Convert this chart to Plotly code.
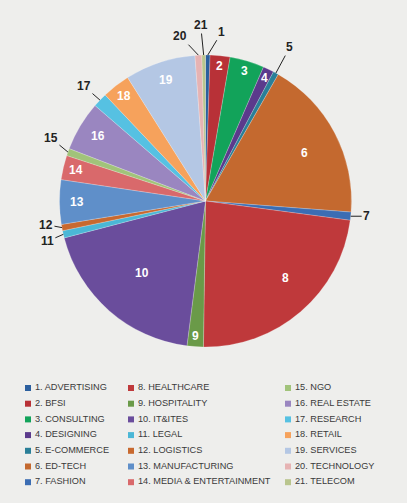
import math
import plotly.graph_objects as go

# slice shares (% of respondents), clockwise from 12 o'clock
categories = ["ADVERTISING", "BFSI", "CONSULTING", "DESIGNING", "E-COMMERCE", "ED-TECH",
              "FASHION", "HEALTHCARE", "HOSPITALITY", "IT&ITES", "LEGAL", "LOGISTICS",
              "MANUFACTURING", "MEDIA & ENTERTAINMENT", "NGO", "REAL ESTATE", "RESEARCH",
              "RETAIL", "SERVICES", "TECHNOLOGY", "TELECOM"]
shares = [0.5, 2.2, 3.8, 1.2, 0.6, 17.9, 0.9, 23.1, 1.8, 18.9, 0.8, 0.7,
          4.9, 2.7, 0.8, 5.5, 1.6, 3.1, 7.8, 0.75, 0.4]
colors = ["#2b5f9e", "#b83137", "#12a35a", "#5b3a8c", "#2a7f98", "#c4692f",
          "#3b6db3", "#bf393b", "#6a9a48", "#6a4d9c", "#4bb7d6", "#c8692f",
          "#5f8fc9", "#d9696b", "#a1c37a", "#9a86c0", "#56c1e2", "#f6a25c",
          "#b4c7e4", "#e6b3b3", "#b9c58d"]
numbers = [str(i + 1) for i in range(len(categories))]

W, H = 407, 503
CX, CY, R = 205.5, 201, 146
BG = "#eeeeec"

# inside labels: (fraction of radius, angle nudge in degrees)
inside_pos = {"2": (0.93, 0), "3": (0.93, 0), "4": (0.935, 0), "6": (0.75, 2),
              "8": (0.76, -5), "9": (0.93, 0), "10": (0.66, 0), "13": (0.88, 0),
              "14": (0.91, 0), "16": (0.86, 0), "18": (0.91, 0), "19": (0.87, 0)}
# outside labels: offset (px) from slice edge to the label
label_offsets = {"1": (14, -23), "21": (-3, -30), "20": (-18, -19), "5": (14, -26),
                 "7": (16, 0), "11": (-16, 7), "12": (-16, -3), "15": (-17, -14),
                 "17": (-16, -14)}

fig = go.Figure()

fig.add_trace(go.Pie(
    labels=categories,
    values=shares,
    textinfo="none",
    marker=dict(colors=colors, line=dict(color="rgba(255,255,255,0.35)", width=0.6)),
    sort=False,
    direction="clockwise",
    rotation=0,
    showlegend=False,
    hoverinfo="label+percent",
    domain=dict(x=[(CX - R) / W, (CX + R) / W], y=[1 - (CY + R) / H, 1 - (CY - R) / H]),
))

# slice numbers, placed from each slice's mid angle
total = sum(shares)
cum = 0
for n, v in zip(numbers, shares):
    mid = (cum + v / 2) / total * 360
    cum += v
    if n in inside_pos:
        frac, nudge = inside_pos[n]
        a = math.radians(mid + nudge)
        fig.add_annotation(x=CX + frac * R * math.sin(a), y=CY - frac * R * math.cos(a),
                           xref="x", yref="y", text="<b>" + n + "</b>", showarrow=False,
                           font=dict(family="Liberation Sans", size=12, color="white"))
    else:
        a = math.radians(mid)
        ax, ay = label_offsets[n]
        fig.add_annotation(x=CX + R * math.sin(a), y=CY - R * math.cos(a),
                           xref="x", yref="y", text="<b>" + n + "</b>",
                           showarrow=True, arrowhead=0, arrowwidth=1, arrowcolor="#222",
                           ax=ax, ay=ay, standoff=0,
                           font=dict(family="Liberation Sans", size=12, color="#222"))

# legend, three columns of seven
col_x = [28, 131, 288]
row0, row_step = 388, 15.7
lx = [col_x[i // 7] for i in range(len(categories))]
ly = [row0 + (i % 7) * row_step for i in range(len(categories))]
fig.add_trace(go.Scatter(
    x=lx, y=ly, mode="markers", showlegend=False, hoverinfo="skip",
    marker=dict(symbol="square", size=6, color=colors, line=dict(width=0)),
))
fig.add_trace(go.Scatter(
    x=[v + 7 for v in lx], y=ly, mode="text", showlegend=False, hoverinfo="skip",
    text=[f"{n}. {c}" for n, c in zip(numbers, categories)],
    textposition="middle right",
    textfont=dict(family="Liberation Sans", size=9.2, color="#3a3a3a"),
))

fig.update_xaxes(range=[0, W], visible=False, fixedrange=True)
fig.update_yaxes(range=[H, 0], visible=False, fixedrange=True)
fig.update_layout(
    width=W, height=H,
    margin=dict(l=0, r=0, t=0, b=0),
    paper_bgcolor=BG, plot_bgcolor=BG,
)

fig.write_html("out.html", config={"displayModeBar": False},
               post_script="document.body.style.margin='0';")
